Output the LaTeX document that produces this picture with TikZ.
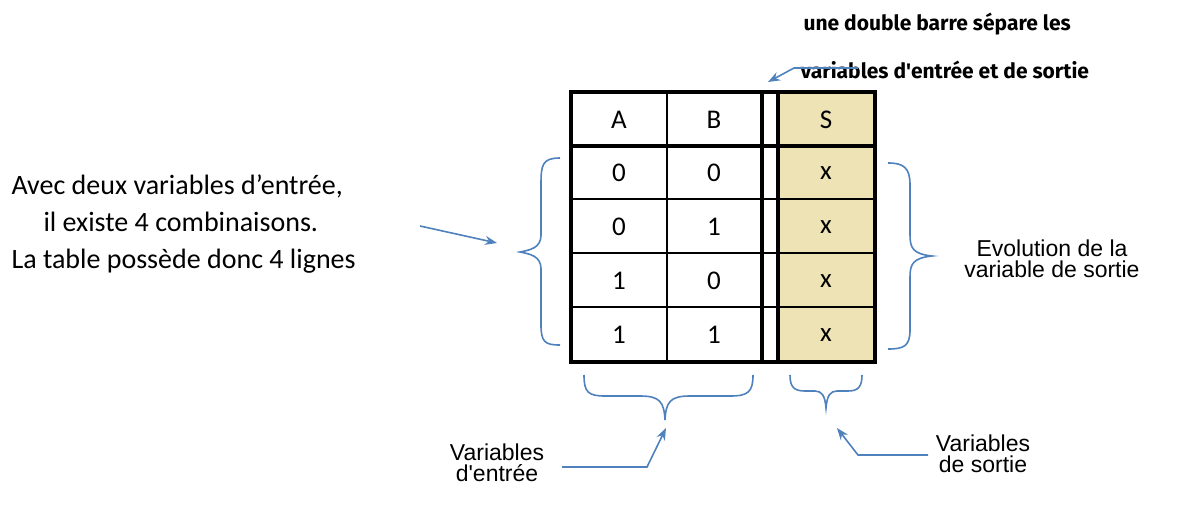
\documentclass[tikz,border=0pt]{standalone}
\usepackage{fontspec}
\setmainfont{Carlito}
\newfontfamily\arialf{Liberation Sans}
\newfontfamily\boldf{Fira Sans}
\usetikzlibrary{arrows.meta}
\definecolor{bl}{HTML}{4F81BD}
\definecolor{sand}{HTML}{EEE3B5}
\begin{document}
\begin{tikzpicture}[x=1pt,y=-1pt,
  br/.style={draw=bl,line width=1.6pt},
  arr/.style={draw=bl,line width=1.6pt,-{Stealth[length=12pt,width=9pt]}},
  cell/.style={font=\fontsize{27}{27}\selectfont},
  lt/.style={font=\fontsize{28}{28}\selectfont,anchor=west},
  arialtxt/.style={font=\arialf\fontsize{23}{23}\selectfont},
  bt/.style={font=\boldf\bfseries\fontsize{21}{21}\selectfont,anchor=west}]
\useasboundingbox (0,0) rectangle (1200,506);
% fill
\fill[sand] (779,92) rectangle (875,362);
% grid thin lines
\draw[line width=1.2pt] (571,199)--(875,199) (571,253)--(875,253) (571,307)--(875,307);
\draw[line width=1.2pt] (667,92)--(667,362);
\draw[line width=4pt] (571,146)--(875,146);
\draw[line width=4pt] (762,92)--(762,362) (778,92)--(778,362);
\draw[line width=4.5pt] (571,92) rectangle (875,362);
% cell texts
\node[cell] (hA) at (619,120) {A};
\node[cell] (hB) at (714,120) {B};
\node[cell] (hS) at (826,120) {S};
\foreach \y/\a/\b [count=\i] in {173/0/0,227/0/1,281/1/0,335/1/1}{
  \node[cell] (a\i) at (619,\y) {\a};
  \node[cell] (b\i) at (714,\y) {\b};
  \node[cell] (s\i) at (826,\y) {x};
}
% braces
\draw[br] (560,158) .. controls (542,158) and (541,165) .. (541,185) -- (541,235) .. controls (541,248) and (530,250) .. (520,252)
  .. controls (530,254) and (541,256) .. (541,269) -- (541,325) .. controls (541,342) and (545,345) .. (560,345);
\draw[br] (888,163) .. controls (904,163) and (910,168) .. (910,185) -- (910,235) .. controls (910,248) and (913,254) .. (932,256)
  .. controls (913,258) and (910,264) .. (910,277) -- (910,330) .. controls (910,346) and (904,349) .. (888,349);
\draw[br] (584,375) .. controls (584,392) and (588,396) .. (605,396) -- (640,396) .. controls (660,396) and (664,402) .. (665,420)
  .. controls (666,402) and (670,396) .. (690,396) -- (730,396) .. controls (748,396) and (753,392) .. (753,375);
\draw[br] (790,375) .. controls (790,387) and (794,391) .. (805,391) -- (815,391) .. controls (822,391) and (825,396) .. (826,408)
  .. controls (827,396) and (830,391) .. (837,391) -- (848,391) .. controls (858,391) and (862,387) .. (862,375);
% texts
\node[lt] (l1) at (8,186) {Avec deux variables d’entrée,};
\node[lt] (l2) at (40,222) {il existe 4 combinaisons.};
\node[lt] (l3) at (8,261) {La table possède donc 4 lignes};
\node[arialtxt,align=center] (evo) at (1052,259) {Evolution de la\\[-2pt]variable de sortie};
\node[arialtxt,align=center] (ve) at (497,463) {Variables\\[-2pt]d'entrée};
\node[arialtxt,align=center] (vs) at (983,454) {Variables\\[-2pt]de sortie};
\node[bt] (t1) at (800,24) {une double barre sépare les};
\node[bt] (t2) at (797,70) {variables d'entrée et de sortie};
% arrows
\coordinate (p1) at (420,226);
\coordinate (q1) at (497,243);
\draw[arr] (p1) -- (q1);
\coordinate (p2) at (858,68);
\coordinate (p2b) at (794,68);
\coordinate (q2) at (768,82);
\draw[arr] (p2) -- (p2b) -- (q2);
\coordinate (p3) at (562,467);
\coordinate (p3b) at (647,467);
\coordinate (q3) at (666,428);
\draw[arr] (p3) -- (p3b) -- (q3);
\coordinate (p4) at (928,455);
\coordinate (p4b) at (858,455);
\coordinate (q4) at (837,428);
\draw[arr] (p4) -- (p4b) -- (q4);
\end{tikzpicture}
\end{document}
